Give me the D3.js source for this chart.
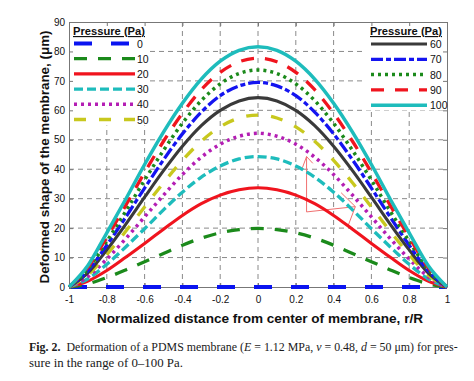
<!DOCTYPE html>
<html><head><meta charset="utf-8">
<script src="https://cdn.jsdelivr.net/npm/d3@7"></script>
<style>html,body{margin:0;padding:0;background:#fff;}svg{display:block;}</style>
</head><body>
<svg id="chart" width="474" height="381"></svg>
<script>
// ---- data ----
const positions = [-1,-0.9,-0.8,-0.7,-0.6,-0.5,-0.4,-0.3,-0.2,-0.1,0,0.1,0.2,0.3,0.4,0.5,0.6,0.7,0.8,0.9,1];
const pressures = [0,10,20,30,40,50,60,70,80,90,100];
const p0   = [0,0,0,0,0,0,0,0,0,0,0,0,0,0,0,0,0,0,0,0,0];
const p10  = [0,1.1,3.2,5.8,8.6,11.4,14.2,16.6,18.4,19.5,19.9,19.5,18.4,16.6,14.2,11.4,8.6,5.8,3.2,1.1,0];
const p20  = [0,2.0,5.6,10.1,14.8,19.6,24.3,28.3,31.2,33.0,33.7,33.0,31.2,28.3,24.3,19.6,14.8,10.1,5.6,2.0,0];
const p30  = [0,2.8,7.7,13.6,19.8,26.2,32.2,37.3,41.1,43.5,44.3,43.5,41.1,37.3,32.2,26.2,19.8,13.6,7.7,2.8,0];
const p40  = [0,3.5,9.5,16.4,23.8,31.2,38.2,44.1,48.5,51.2,52.2,51.2,48.5,44.1,38.2,31.2,23.8,16.4,9.5,3.5,0];
const p50  = [0,4.1,11.0,18.9,27.2,35.4,43.0,49.5,54.4,57.4,58.4,57.4,54.4,49.5,43.0,35.4,27.2,18.9,11.0,4.1,0];
const p60  = [0,4.8,12.6,21.3,30.5,39.5,47.8,54.8,60.0,63.2,64.3,63.2,60.0,54.8,47.8,39.5,30.5,21.3,12.6,4.8,0];
const p70  = [0,5.5,14.2,23.7,33.6,43.2,52.0,59.4,65.0,68.3,69.5,68.3,65.0,59.4,52.0,43.2,33.6,23.7,14.2,5.5,0];
const p80  = [0,6.1,15.5,25.7,36.3,46.4,55.6,63.3,69.0,72.5,73.7,72.5,69.0,63.3,55.6,46.4,36.3,25.7,15.5,6.1,0];
const p90  = [0,6.7,16.9,27.7,38.9,49.5,59.0,67.0,72.9,76.5,77.7,76.5,72.9,67.0,59.0,49.5,38.9,27.7,16.9,6.7,0];
const p100 = [0,7.3,18.4,29.8,41.6,52.6,62.4,70.6,76.7,80.4,81.6,80.4,76.7,70.6,62.4,52.6,41.6,29.8,18.4,7.3,0];
const seriesValues = [p0,p10,p20,p30,p40,p50,p60,p70,p80,p90,p100];
const xTicks = [-1,-0.8,-0.6,-0.4,-0.2,0,0.2,0.4,0.6,0.8,1];
const yTicks = [0,10,20,30,40,50,60,70,80,90];
// annotation (thin red axes sketch) in data coordinates
const annoUp = [[0.257,25.5],[0.257,44.3]];
const annoUpHead = [[0.235,40.5],[0.257,44.3],[0.29,42.0]];
const annoRight = [[0.257,25.5],[0.515,27.3]];
const annoRightHead = [[0.44,32.0],[0.515,27.3],[0.475,20.5]];

// ---- styles ----
const styles = {
  0:  {color:"#0a14f0", width:4.2, dash:"18,19"},
  10: {color:"#1b8a1b", width:3.3, dash:"13,11"},
  20: {color:"#f0141e", width:3.1, dash:null},
  30: {color:"#1ebcbc", width:3.3, dash:"9,4"},
  40: {color:"#b41eb4", width:3.5, dash:"3,4"},
  50: {color:"#c8c81e", width:3.3, dash:"12,13"},
  60: {color:"#3a3a3a", width:3.1, dash:null},
  70: {color:"#1414f0", width:3.3, dash:"12,3,5,3"},
  80: {color:"#1b8a1b", width:3.5, dash:"3,4"},
  90: {color:"#f0141e", width:3.3, dash:"13,11"},
  100:{color:"#1ebcbc", width:3.5, dash:null}
};
const tickFont = "Liberation Sans, Arial, sans-serif";

const svg = d3.select("#chart");
svg.append("rect").attr("width",474).attr("height",381).attr("fill","#fff");

const L=69, R=447, T=22, B=287;
const x = d3.scaleLinear().domain([-1,1]).range([L,R]);
const y = d3.scaleLinear().domain([0,90]).range([B,T]);

// grid
const grid = svg.append("g");
grid.selectAll("line.vg").data(xTicks.slice(1,-1)).join("line")
  .attr("x1",d=>x(d)).attr("x2",d=>x(d)).attr("y1",T).attr("y2",B)
  .attr("stroke","#8a8a8a").attr("stroke-width",1).attr("stroke-dasharray","5,4");
grid.selectAll("line.hg").data(yTicks.slice(1,-1)).join("line")
  .attr("x1",L).attr("x2",R).attr("y1",d=>y(d)).attr("y2",d=>y(d))
  .attr("stroke","#8a8a8a").attr("stroke-width",1).attr("stroke-dasharray","5,4");

// legend background boxes (hide grid)
svg.append("rect").attr("x",L+0.5).attr("y",T+0.5).attr("width",79).attr("height",103).attr("fill","#fff");
svg.append("rect").attr("x",366).attr("y",T+0.5).attr("width",R-366-0.5).attr("height",88).attr("fill","#fff");

// axes
const axisStyle = g => {
  g.selectAll(".domain").attr("stroke","#777");
  g.selectAll(".tick line").attr("stroke","#777");
  g.selectAll("text").attr("font-family",tickFont).attr("font-size","10px").attr("fill","#111");
};
svg.append("g").attr("transform",`translate(0,${B})`)
  .call(d3.axisBottom(x).tickValues(xTicks).tickSizeInner(-4).tickSizeOuter(0).tickPadding(9).tickFormat(d=>String(d)))
  .call(axisStyle);
svg.append("g").attr("transform",`translate(0,${T})`)
  .call(d3.axisTop(x).tickValues(xTicks).tickSizeInner(-4).tickSizeOuter(0).tickFormat(""))
  .call(axisStyle);
svg.append("g").attr("transform",`translate(${L},0)`)
  .call(d3.axisLeft(y).tickValues(yTicks).tickSizeInner(-4).tickSizeOuter(0).tickPadding(4))
  .call(axisStyle);
svg.append("g").attr("transform",`translate(${R},0)`)
  .call(d3.axisRight(y).tickValues(yTicks).tickSizeInner(-4).tickSizeOuter(0).tickFormat(""))
  .call(axisStyle);

// annotation
const annoLine = d3.line().x(d=>x(d[0])).y(d=>y(d[1]));
[annoUp,annoUpHead,annoRight,annoRightHead].forEach(a=>{
  svg.append("path").attr("d",annoLine(a)).attr("fill","none").attr("stroke","#f07070").attr("stroke-width",1);
});

// curves
const line = d3.line().x((d,i)=>x(positions[i])).y(d=>y(d)).curve(d3.curveMonotoneX);
pressures.forEach((p,k)=>{
  const s = styles[p];
  svg.append("path").attr("d",line(seriesValues[k]))
    .attr("fill","none").attr("stroke",s.color).attr("stroke-width",s.width)
    .attr("stroke-dasharray",s.dash).attr("stroke-linecap","butt");
});

// legends
function legend(items, x0, x1, lx, y0, dy, titleX){
  svg.append("text").attr("x",titleX).attr("y",35).text("Pressure (Pa)")
    .attr("font-family","Liberation Sans, Arial, sans-serif").attr("font-weight","bold")
    .attr("font-size","11.5px").attr("text-decoration","underline")
    .attr("textLength",72).attr("lengthAdjust","spacingAndGlyphs").attr("fill","#111");
  items.forEach((p,i)=>{
    const s = styles[p], yy = y0 + i*dy;
    svg.append("line").attr("x1",x0).attr("x2",x1).attr("y1",yy).attr("y2",yy)
      .attr("stroke",s.color).attr("stroke-width",s.width).attr("stroke-dasharray",s.dash);
    svg.append("text").attr("x",lx).attr("y",yy+4).text(p)
      .attr("font-family",tickFont).attr("font-size","10.5px").attr("fill","#111");
  });
}
legend([0,10,20,30,40,50], 74, 135, 137, 43.5, 15.2, 73);
legend([60,70,80,90,100], 371, 427, 430, 44, 15.3, 370);

// axis titles
svg.append("text").attr("x",260).attr("y",323).attr("text-anchor","middle")
  .text("Normalized distance from center of membrane, r/R")
  .attr("font-family","Liberation Sans, Arial, sans-serif").attr("font-weight","bold").attr("font-size","13.5px")
  .attr("textLength",326).attr("lengthAdjust","spacingAndGlyphs").attr("fill","#111");
svg.append("text").attr("transform","translate(49,157) rotate(-90)").attr("text-anchor","middle")
  .text("Deformed shape of the membrane, (\u03BCm)")
  .attr("font-family","Liberation Sans, Arial, sans-serif").attr("font-weight","bold").attr("font-size","13.5px")
  .attr("textLength",253).attr("lengthAdjust","spacingAndGlyphs").attr("fill","#111");

// caption
function captionLine(parts, yBase, targetWidth){
  const g = svg.append("g");
  const t = g.append("text").attr("x",0).attr("y",0)
    .attr("font-family","Liberation Serif, Times New Roman, serif").attr("font-size","12.5px").attr("fill","#1a1a1a");
  parts.forEach(pt=>{
    const ts = t.append("tspan").text(pt.t);
    if(pt.b) ts.attr("font-weight","bold");
    if(pt.i) ts.attr("font-style","italic");
  });
  const w = t.node().getComputedTextLength();
  g.attr("transform",`translate(29,${yBase}) scale(${targetWidth/w},1)`);
}
captionLine([
  {t:"Fig. 2.", b:true},
  {t:"\u2002Deformation of a PDMS membrane ("},
  {t:"E", i:true},
  {t:" = 1.12 MPa, "},
  {t:"\u03BD", i:true},
  {t:" = 0.48, "},
  {t:"d", i:true},
  {t:" = 50 \u03BCm) for pres-"}
], 351, 429);
captionLine([{t:"sure in the range of 0\u2013100 Pa."}], 367, 154);
</script>
</body></html>
